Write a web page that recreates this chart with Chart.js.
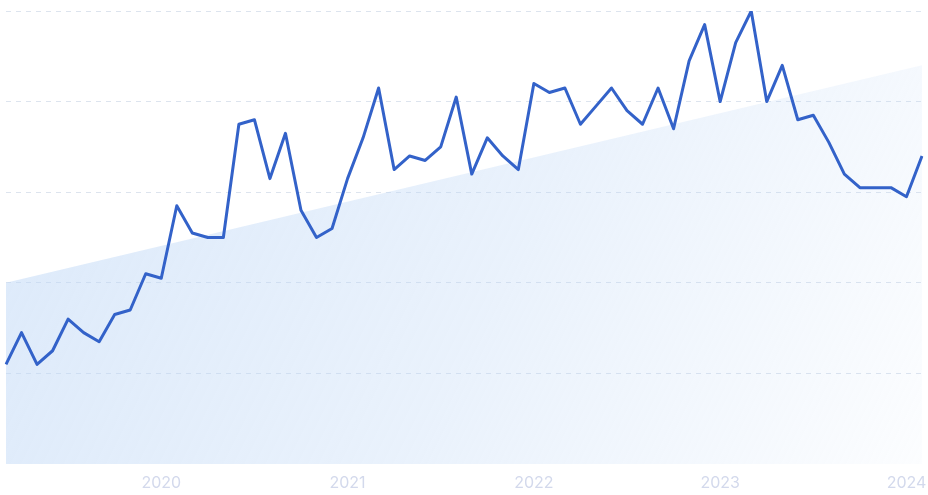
<!DOCTYPE html>
<html lang="en">
<head>
  <meta charset="UTF-8">
  <title>Trend</title>
  <script src="https://cdn.jsdelivr.net/npm/chart.js"></script>
  <style>
    body { margin: 0; background: #fff; }
    #wrap { width: 928px; height: 495px; }
  </style>
</head>
<body>
  <div id="wrap"><canvas id="trendChart"></canvas></div>
  <script>
    // monthly points, Mar 2019 .. Feb 2024
    const months = [];
    for (let y = 2019; y <= 2024; y++) {
      for (let m = 1; m <= 12; m++) {
        const key = y + '-' + String(m).padStart(2, '0');
        if (key >= '2019-03' && key <= '2024-02') months.push(key);
      }
    }

    const interest = [
      22, 29, 22, 25, 32, 29, 27, 33, 34, 42,
      41, 57, 51, 50, 50, 75, 76, 63, 73, 56,
      50, 52, 63, 72, 83, 65, 68, 67, 70, 81,
      64, 72, 68, 65, 84, 82, 83, 75, 79, 83,
      78, 75, 83, 74, 89, 97, 80, 93, 100, 80,
      88, 76, 77, 71, 64, 61, 61, 61, 59, 68
    ];

    // trend band: start and end values only
    const trendStart = 40;
    const trendEnd = 88;
    const trend = months.map((_, i) => i === 0 ? trendStart : (i === months.length - 1 ? trendEnd : null));

    const yTicks = [0, 20, 40, 60, 80, 100];

    function bandFill(context) {
      const area = context.chart.chartArea;
      if (!area) return 'rgba(190,215,246,0.5)';
      const g = context.chart.ctx.createLinearGradient(area.left, area.top, area.right, area.bottom);
      g.addColorStop(0, 'rgba(190,215,246,0.56)');
      g.addColorStop(0.55, 'rgba(190,215,246,0.33)');
      g.addColorStop(1, 'rgba(190,215,246,0.05)');
      return g;
    }

    new Chart(document.getElementById('trendChart'), {
      type: 'line',
      data: {
        labels: months,
        datasets: [
          {
            data: interest,
            borderColor: '#3362c9',
            borderWidth: 3,
            pointRadius: 0,
            tension: 0,
            fill: false,
            borderJoinStyle: 'round',
            order: 1
          },
          {
            data: trend,
            borderWidth: 0,
            borderColor: 'transparent',
            backgroundColor: bandFill,
            pointRadius: 0,
            spanGaps: true,
            fill: 'origin',
            order: 2
          }
        ]
      },
      options: {
        responsive: true,
        maintainAspectRatio: false,
        animation: false,
        layout: { padding: { left: 6, right: 6, top: 11, bottom: 4 } },
        plugins: { legend: { display: false }, tooltip: { enabled: false } },
        scales: {
          x: {
            offset: false,
            grid: { display: false, drawTicks: false },
            border: { display: false },
            afterFit: s => { s.height = 27; s.paddingLeft = 0; s.paddingRight = 0; },
            ticks: {
              autoSkip: false,
              maxRotation: 0,
              padding: 10,
              color: '#d3d9ec',
              font: { family: 'Inter', size: 16 },
              callback: function (v, i) {
                const lab = months[i];
                return lab.endsWith('-01') ? lab.slice(0, 4) : '';
              }
            }
          },
          y: {
            min: yTicks[0],
            max: yTicks[yTicks.length - 1],
            afterBuildTicks: axis => { axis.ticks = yTicks.map(v => ({ value: v })); },
            ticks: { display: false },
            border: { display: false, dash: [5, 5] },
            grid: {
              drawTicks: false,
              lineWidth: 1,
              color: c => c.tick && c.tick.value === 0 ? 'transparent' : '#dde4ee'
            }
          }
        }
      }
    });
  </script>
</body>
</html>
